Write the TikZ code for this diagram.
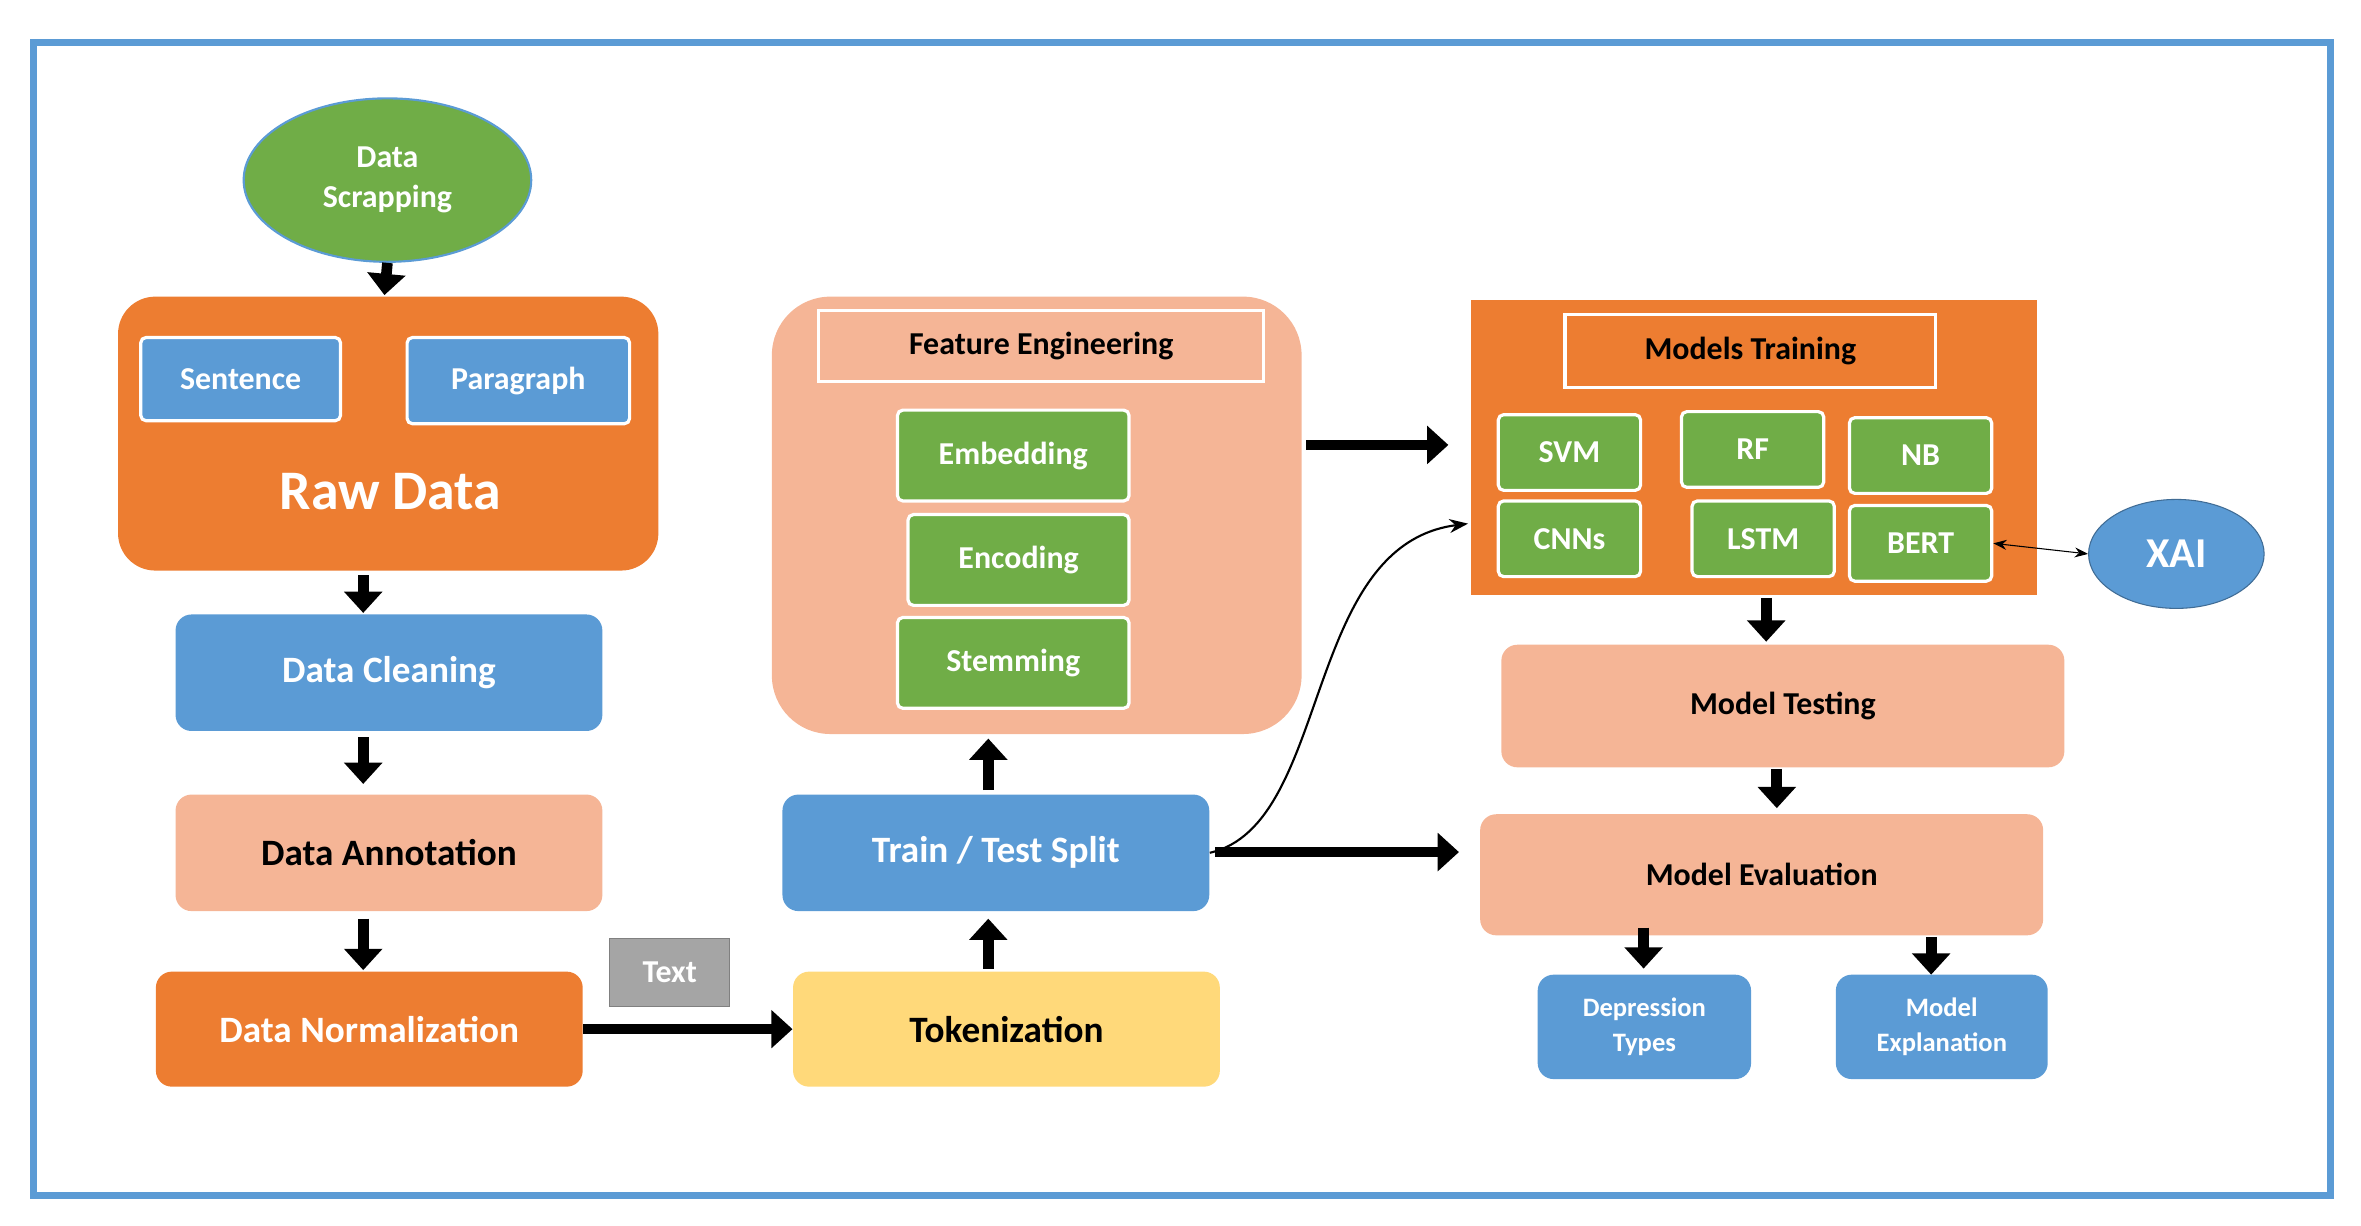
\documentclass[tikz,border=0pt]{standalone}
\usepackage{fontspec}
\setmainfont{Carlito}
\usetikzlibrary{arrows.meta,shapes.geometric,calc}
\definecolor{bblue}{HTML}{5B9BD5}
\definecolor{borange}{HTML}{ED7D31}
\definecolor{bgreen}{HTML}{70AD47}
\definecolor{bsalmon}{HTML}{F5B596}
\definecolor{byellow}{HTML}{FFD97A}
\definecolor{bgray}{HTML}{A5A5A5}
\tikzset{
  sz/.style 2 args={minimum width=#1*0.02cm, minimum height=#2*0.02cm, inner sep=0pt},
  box/.style={rectangle, rounded corners=6pt, font=\bfseries\fontsize{14}{16}\selectfont, text=white},
  bluebox/.style={box, fill=bblue},
  orangebox/.style={box, fill=borange},
  pinkbox/.style={box, fill=bsalmon, text=black},
  small/.style={rectangle, rounded corners=2pt, draw=white, line width=1.2pt, font=\bfseries\fontsize{12}{14}\selectfont, text=white},
  greenbox/.style={small, fill=bgreen},
  big/.style={-{Triangle[length=8pt,width=14pt]}, line width=4pt},
}
\begin{document}
\begin{tikzpicture}[x=0.02cm,y=-0.02cm]
\useasboundingbox (0,0) rectangle (1560,810);
\draw[bblue, line width=2.5pt] (22,28) rectangle (1540,790);

% left column
\node[ellipse, fill=bgreen, draw=bblue, thick, sz={190}{108}, align=center, text=white, font=\bfseries\fontsize{12}{15}\selectfont] (scrap) at (256,119) {Data\\Scrapping};
\node[orangebox, sz={357}{181}, rounded corners=14pt] (raw) at (256.5,286.5) {};
\node[text=white, font=\bfseries\fontsize{21}{24}\selectfont] (rawlabel) at (258,325) {Raw Data};
\node[small, fill=bblue, sz={132}{55}] (sent) at (159,250.5) {Sentence};
\node[small, fill=bblue, sz={147}{57}] (para) at (342.5,251.5) {Paragraph};
\node[bluebox, sz={282}{77}] (clean) at (257,444.5) {Data Cleaning};
\node[pinkbox, sz={282}{77}] (annot) at (257,563.5) {Data Annotation};
\node[orangebox, sz={282}{76}] (norm) at (244,680) {Data Normalization};
\node[rectangle, fill=bgray, draw=gray, sz={79}{45}, text=white, font=\bfseries\fontsize{12}{14}\selectfont] (txt) at (442.5,642.5) {Text};

% middle column
\node[box, fill=byellow, text=black, sz={282}{76}] (token) at (665,680) {Tokenization};
\node[bluebox, sz={282}{77}] (split) at (658,563.5) {Train / Test Split};
\node[pinkbox, sz={350}{289}, rounded corners=22pt] (feat) at (685,340.5) {};
\node[rectangle, fill=bsalmon, draw=white, line width=1.2pt, sz={294}{47}, font=\bfseries\fontsize{12}{14}\selectfont] (feattitle) at (688,228.5) {Feature Engineering};
\node[greenbox, sz={153}{60}] (embed) at (669.5,301) {Embedding};
\node[greenbox, sz={146}{60}] (encode) at (673,370) {Encoding};
\node[greenbox, sz={153}{60}] (stem) at (669.5,438) {Stemming};

% right column
\node[rectangle, fill=borange, sz={374}{195}] (models) at (1159,295.5) {};
\node[rectangle, fill=borange, draw=white, line width=1.2pt, sz={245}{48}, font=\bfseries\fontsize{12}{14}\selectfont] (mtitle) at (1156.5,232) {Models Training};
\node[greenbox, sz={94}{50}] (svm) at (1037,299) {SVM};
\node[greenbox, sz={94}{50}] (rf) at (1158,297) {RF};
\node[greenbox, sz={94}{50}] (nb) at (1269,301) {NB};
\node[greenbox, sz={94}{50}] (cnn) at (1037,356) {CNNs};
\node[greenbox, sz={94}{50}] (lstm) at (1165,356) {LSTM};
\node[greenbox, sz={94}{50}] (bert) at (1269,359) {BERT};
\node[ellipse, fill=bblue, draw=bblue!70!black, sz={116}{72}, text=white, font=\bfseries\fontsize{16}{18}\selectfont] (xai) at (1438,366) {XAI};
\node[pinkbox, sz={372}{81}, font=\bfseries\fontsize{12}{14}\selectfont] (test) at (1178,466.5) {Model Testing};
\node[pinkbox, sz={372}{80}, font=\bfseries\fontsize{12}{14}\selectfont] (eval) at (1164,578) {Model Evaluation};
\node[bluebox, sz={141}{69}, align=center, font=\bfseries\fontsize{10}{13}\selectfont] (dep) at (1086.5,678.5) {Depression\\Types};
\node[bluebox, sz={140}{69}, align=center, font=\bfseries\fontsize{10}{13}\selectfont] (expl) at (1283,678.5) {Model\\Explanation};

% connectors
\draw[big] (scrap.south) -- (254,195);
\draw[big] (240,380) -- (240,405);
\draw[big] (240,487) -- (240,518);
\draw[big] (240,607) -- (240,641);
\draw[big] (norm.east) -- (token.west);
\draw[big] (653,640) -- (653,607);
\draw[big] (653,522) -- (653,488);
\draw[big] (863,294) -- (957,294);
\draw[big] (803,563) -- (964,563);
\draw[-{Stealth[length=7pt]}, thick] (split.east) .. controls (880,545) and (860,360) .. (970,346);
\draw[big] (1167,395) -- (1167,424);
\draw[big] (1174,508) -- (1174,534);
\draw[big] (1086,613) -- (1086,640);
\draw[big] (1276,619) -- (1276,644);
\draw[{Stealth[length=5pt]}-{Stealth[length=5pt]}] (bert.east) -- (xai.west);
\end{tikzpicture}
\end{document}
